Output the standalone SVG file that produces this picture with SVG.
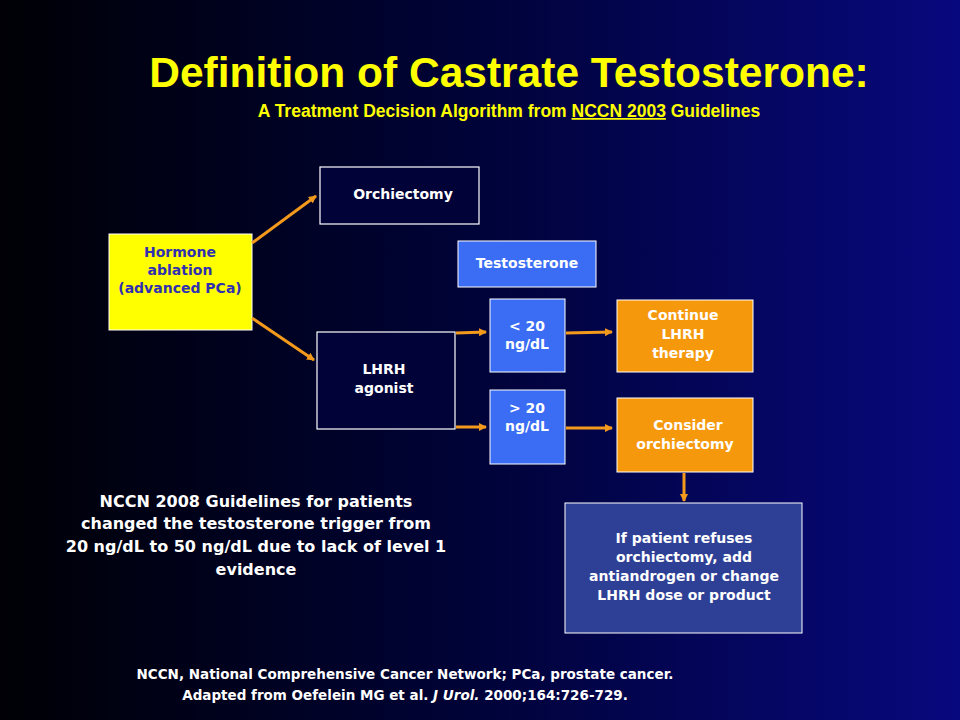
<svg xmlns="http://www.w3.org/2000/svg" width="960" height="720" viewBox="0 0 960 720">
<defs>
<linearGradient id="bg" x1="0" y1="0" x2="1" y2="0"><stop offset="0" stop-color="#000005"/><stop offset="0.5" stop-color="#000338"/><stop offset="1" stop-color="#08087e"/></linearGradient>
<marker id="ah" markerWidth="8" markerHeight="8" refX="7" refY="4" orient="auto" markerUnits="userSpaceOnUse"><path d="M0,0 L8,4 L0,8 Z" fill="#f39a1c"/></marker>
<style>
text{font-family:"DejaVu Sans","Liberation Sans",sans-serif;font-weight:bold;text-anchor:middle;fill:#fff;font-size:14px}
.dk{fill:#000238;stroke:#fff;stroke-width:1.2}
.bl{fill:#3a6cf4;stroke:#fff;stroke-width:1}
.or{fill:#f6980c;stroke:#fff;stroke-width:1}
.cn line{stroke:#f39a1c;stroke-width:3;marker-end:url(#ah)}
.note{font-size:16px}
.foot{font-size:13.5px}
</style>
</defs>
<rect width="960" height="720" fill="url(#bg)"/>
<text x="509" y="87" style="font-family:'Liberation Sans',Arial,sans-serif;font-size:42.5px;fill:#ffff00">Definition of Castrate Testosterone:</text>
<text x="509" y="117" style="font-family:'Liberation Sans',Arial,sans-serif;font-size:17.5px;fill:#ffff00">A Treatment Decision Algorithm from <tspan text-decoration="underline">NCCN 2003</tspan> Guidelines</text>
<g id="hormone"><rect x="109" y="234" width="143" height="96" fill="#ffff00" stroke="#fff"/><text x="180" y="257" style="fill:#3030b0">Hormone</text><text x="180" y="275" style="fill:#3030b0">ablation</text><text x="180" y="293" style="fill:#3030b0">(advanced PCa)</text></g>
<g id="orchiectomy"><rect class="dk" x="320" y="167" width="159" height="57"/><text x="403" y="199">Orchiectomy</text></g>
<g id="testosterone"><rect class="bl" x="458" y="241" width="138" height="46"/><text x="527" y="268">Testosterone</text></g>
<g id="lhrh"><rect class="dk" x="317" y="332" width="138" height="97"/><text x="384" y="374">LHRH</text><text x="384" y="393">agonist</text></g>
<g id="lt20"><rect class="bl" x="490" y="299" width="75" height="73"/><text x="527" y="331">&lt; 20</text><text x="527" y="349">ng/dL</text></g>
<g id="gt20"><rect class="bl" x="490" y="390" width="75" height="74"/><text x="527" y="413">&gt; 20</text><text x="527" y="431">ng/dL</text></g>
<g id="continue"><rect class="or" x="617" y="300" width="136" height="72"/><text x="683" y="320">Continue</text><text x="683" y="339">LHRH</text><text x="683" y="358">therapy</text></g>
<g id="consider"><rect class="or" x="617" y="398" width="136" height="74"/><text x="688" y="430">Consider</text><text x="685" y="449">orchiectomy</text></g>
<g id="refuses"><rect x="565" y="503" width="237" height="130" fill="#2e3f96" stroke="#fff"/><text x="684" y="543">If patient refuses</text><text x="684" y="562">orchiectomy, add</text><text x="684" y="581">antiandrogen or change</text><text x="684" y="600">LHRH dose or product</text></g>
<g class="cn" id="connectors">
<line x1="252" y1="243" x2="316" y2="196"/>
<line x1="252" y1="318" x2="314" y2="360"/>
<line x1="456" y1="333" x2="486" y2="332"/>
<line x1="456" y1="427" x2="486" y2="427"/>
<line x1="566" y1="333" x2="612" y2="332"/>
<line x1="566" y1="428" x2="612" y2="428"/>
<line x1="684" y1="473" x2="684" y2="501"/>
</g>
<text class="note" x="256" y="507">NCCN 2008 Guidelines for patients</text><text class="note" x="256" y="529">changed the testosterone trigger from</text><text class="note" x="256" y="552">20 ng/dL to 50 ng/dL due to lack of level 1</text><text class="note" x="256" y="575">evidence</text>
<text class="foot" x="405" y="679">NCCN, National Comprehensive Cancer Network; PCa, prostate cancer.</text>
<text class="foot" x="405" y="700">Adapted from Oefelein MG et al. <tspan font-style="italic">J Urol.</tspan> 2000;164:726-729.</text>
</svg>
